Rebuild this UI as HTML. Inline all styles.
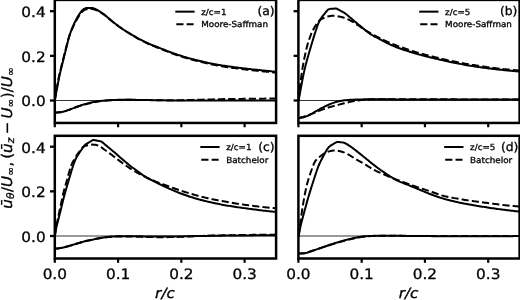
<!DOCTYPE html>
<html lang="en"><head><meta charset="utf-8"><title>Vortex velocity profiles</title>
<style>html,body{margin:0;padding:0;background:#fff;overflow:hidden}body{width:520px;height:300px;position:relative}</style>
</head><body>
<svg width="520" height="300" viewBox="0 0 520 300" style="display:block;position:absolute;left:0;top:0" font-family="'DejaVu Sans', 'Liberation Sans', sans-serif" fill="#000">
<style>text{stroke:#000;stroke-width:0.3px;paint-order:stroke fill;text-rendering:geometricPrecision}</style>
<rect x="0" y="0" width="520" height="300" fill="#fff"/>
<defs>
<clipPath id="cpa"><rect x="54.8" y="-0.1" width="221.30" height="123.05"/></clipPath>
<clipPath id="cpb"><rect x="298.4" y="-0.1" width="221.20" height="123.05"/></clipPath>
<clipPath id="cpc"><rect x="54.8" y="135.8" width="221.30" height="122.70"/></clipPath>
<clipPath id="cpd"><rect x="298.4" y="135.8" width="221.20" height="122.70"/></clipPath>
</defs>
<g clip-path="url(#cpa)">
<path d="M54.8,100.5 L276.1,100.5" stroke="#000" stroke-width="0.8" fill="none"/>
<path d="M54.80,100.50 L56.19,92.94 L57.30,87.00 L57.59,85.45 L58.98,77.94 L59.60,75.00 L60.37,71.70 L61.77,65.98 L63.16,60.42 L64.30,55.85 L64.55,54.83 L65.94,49.22 L67.34,43.64 L68.00,41.00 L68.73,38.24 L70.12,33.66 L71.25,30.50 L71.52,29.81 L72.91,26.39 L74.30,23.29 L75.70,20.46 L77.09,17.86 L77.40,17.30 L78.48,15.44 L79.88,13.28 L81.00,11.80 L81.27,11.48 L82.66,9.99 L84.05,8.86 L85.30,8.30 L85.45,8.26 L86.84,8.01 L88.23,7.91 L89.00,7.90 L89.63,7.90 L91.02,7.93 L92.41,8.04 L93.30,8.20 L93.81,8.34 L95.20,8.89 L96.00,9.30 L96.59,9.63 L97.99,10.43 L99.38,11.29 L100.00,11.70 L100.77,12.22 L102.16,13.16 L103.56,14.14 L104.95,15.17 L106.00,16.00 L106.34,16.28 L107.74,17.47 L109.13,18.70 L110.52,19.90 L111.00,20.30 L111.92,21.05 L113.31,22.18 L114.70,23.29 L116.00,24.30 L116.10,24.37 L117.49,25.42 L118.88,26.44 L120.27,27.42 L121.67,28.38 L122.00,28.60 L123.06,29.31 L124.45,30.22 L125.85,31.12 L127.24,32.00 L128.63,32.87 L130.03,33.72 L131.42,34.56 L132.00,34.90 L132.81,35.38 L134.21,36.19 L135.60,36.98 L136.99,37.76 L138.38,38.52 L139.78,39.26 L141.17,39.98 L142.00,40.40 L142.56,40.68 L143.96,41.37 L145.35,42.05 L146.74,42.71 L148.14,43.35 L149.53,43.97 L150.92,44.56 L152.00,45.00 L152.32,45.13 L153.71,45.67 L155.10,46.22 L156.49,46.76 L157.89,47.30 L159.28,47.84 L160.67,48.38 L162.00,48.90 L162.07,48.93 L163.46,49.48 L164.85,50.04 L166.25,50.61 L167.64,51.17 L169.03,51.72 L170.00,52.10 L170.43,52.26 L171.82,52.78 L173.21,53.28 L174.61,53.76 L176.00,54.22 L177.39,54.67 L178.78,55.11 L180.00,55.50 L180.18,55.56 L181.57,56.00 L182.96,56.44 L184.36,56.87 L185.75,57.29 L187.14,57.70 L188.54,58.10 L189.93,58.48 L190.00,58.50 L191.32,58.85 L192.72,59.21 L194.11,59.56 L195.50,59.91 L196.89,60.25 L198.29,60.59 L199.68,60.92 L200.00,61.00 L201.07,61.26 L202.47,61.59 L203.86,61.92 L205.25,62.25 L206.65,62.57 L208.04,62.88 L209.43,63.18 L210.00,63.30 L210.83,63.47 L212.22,63.75 L213.61,64.01 L215.00,64.27 L216.40,64.51 L217.79,64.74 L219.18,64.97 L220.00,65.10 L220.58,65.19 L221.97,65.41 L223.36,65.63 L224.76,65.84 L226.15,66.05 L227.54,66.26 L228.94,66.45 L230.00,66.60 L230.33,66.64 L231.72,66.83 L233.11,67.02 L234.51,67.20 L235.90,67.38 L237.29,67.56 L238.69,67.74 L240.00,67.90 L240.08,67.91 L241.47,68.08 L242.87,68.26 L244.26,68.43 L245.65,68.60 L247.05,68.77 L248.44,68.93 L249.83,69.08 L250.00,69.10 L251.22,69.23 L252.62,69.38 L254.01,69.53 L255.40,69.67 L256.80,69.82 L258.19,69.96 L259.58,70.10 L260.98,70.24 L262.37,70.39 L262.50,70.40 L263.76,70.53 L265.16,70.67 L266.55,70.81 L267.94,70.95 L269.33,71.10 L270.73,71.24 L272.12,71.38 L273.51,71.52 L274.91,71.66 L276.30,71.80" stroke="#000" stroke-width="2.0" fill="none" stroke-linejoin="round" stroke-linecap="square"/>
<path d="M54.80,112.65 L56.19,112.59 L57.59,112.48 L58.00,112.45 L58.98,112.36 L60.37,112.21 L61.77,111.99 L62.50,111.85 L63.16,111.70 L64.55,111.32 L65.94,110.87 L66.00,110.85 L67.34,110.40 L68.73,109.91 L70.00,109.45 L70.12,109.40 L71.52,108.87 L72.91,108.34 L74.30,107.81 L75.00,107.55 L75.70,107.29 L77.09,106.76 L78.48,106.23 L79.88,105.70 L80.00,105.65 L81.27,105.21 L82.66,104.79 L84.05,104.41 L85.00,104.15 L85.45,104.02 L86.84,103.64 L88.23,103.26 L89.63,102.91 L90.00,102.82 L91.02,102.58 L92.41,102.29 L93.81,102.02 L95.00,101.81 L95.20,101.77 L96.59,101.54 L97.99,101.32 L99.38,101.13 L100.00,101.05 L100.77,100.96 L102.16,100.82 L103.56,100.68 L104.95,100.56 L106.34,100.45 L107.74,100.34 L109.13,100.25 L110.00,100.20 L110.52,100.17 L111.92,100.09 L113.31,100.01 L114.70,99.95 L116.10,99.89 L117.49,99.84 L118.88,99.81 L120.00,99.80 L120.27,99.80 L121.67,99.79 L123.06,99.79 L124.45,99.79 L125.85,99.80 L127.24,99.80 L128.63,99.81 L130.03,99.81 L131.42,99.83 L132.81,99.84 L134.21,99.85 L135.60,99.87 L136.99,99.89 L137.50,99.90 L138.38,99.91 L139.78,99.94 L141.17,99.96 L142.56,99.99 L143.96,100.01 L145.35,100.04 L146.74,100.07 L148.14,100.10 L149.53,100.12 L150.92,100.15 L152.32,100.17 L153.71,100.20 L155.10,100.22 L156.49,100.25 L157.89,100.27 L159.28,100.29 L160.00,100.30 L160.67,100.31 L162.07,100.33 L163.46,100.35 L164.85,100.37 L166.25,100.38 L167.64,100.40 L169.03,100.42 L170.43,100.43 L171.82,100.45 L173.21,100.46 L174.61,100.47 L176.00,100.48 L177.39,100.49 L178.78,100.50 L180.00,100.50 L180.18,100.50 L181.57,100.50 L182.96,100.51 L184.36,100.51 L185.75,100.51 L187.14,100.51 L188.54,100.51 L189.93,100.51 L191.32,100.51 L192.72,100.52 L194.11,100.52 L195.50,100.52 L196.89,100.52 L198.29,100.52 L199.68,100.52 L201.07,100.52 L202.47,100.52 L203.86,100.52 L205.25,100.52 L206.65,100.51 L208.04,100.51 L209.43,100.51 L210.83,100.51 L212.22,100.51 L213.61,100.51 L215.00,100.51 L216.40,100.51 L217.79,100.50 L219.18,100.50 L220.00,100.50 L220.58,100.50 L221.97,100.50 L223.36,100.49 L224.76,100.49 L226.15,100.49 L227.54,100.49 L228.94,100.49 L230.33,100.48 L231.72,100.48 L233.11,100.48 L234.51,100.48 L235.90,100.48 L237.29,100.47 L238.69,100.47 L240.08,100.47 L241.47,100.47 L242.87,100.47 L244.26,100.46 L245.65,100.46 L247.05,100.46 L248.44,100.46 L249.83,100.46 L251.22,100.45 L252.62,100.45 L254.01,100.45 L255.40,100.45 L256.80,100.44 L258.19,100.44 L259.58,100.44 L260.98,100.44 L262.37,100.43 L263.76,100.43 L265.16,100.43 L266.55,100.42 L267.94,100.42 L269.33,100.42 L270.73,100.41 L272.12,100.41 L273.51,100.41 L274.91,100.40 L276.30,100.40" stroke="#000" stroke-width="2.0" fill="none" stroke-linejoin="round" stroke-linecap="square"/>
<path d="M54.80,100.50 L56.19,91.73 L57.00,87.00 L57.59,83.67 L58.98,76.42 L59.30,75.00 L60.37,70.50 L61.77,64.80 L63.16,59.21 L64.00,55.85 L64.55,53.65 L65.94,48.14 L67.34,42.75 L67.80,41.00 L68.73,37.74 L70.12,33.66 L71.20,31.00 L71.52,30.27 L72.91,27.19 L74.30,24.31 L75.70,21.61 L77.09,19.09 L77.60,18.20 L78.48,16.71 L79.88,14.55 L81.20,12.80 L81.27,12.72 L82.66,11.28 L84.05,10.21 L85.30,9.60 L85.45,9.55 L86.84,9.16 L88.23,8.94 L89.00,8.90 L89.63,8.90 L91.02,8.94 L92.41,9.06 L93.30,9.20 L93.81,9.31 L95.20,9.70 L96.00,10.00 L96.59,10.25 L97.99,10.90 L99.38,11.64 L100.00,12.00 L100.77,12.47 L102.16,13.34 L103.56,14.27 L104.95,15.28 L106.00,16.10 L106.34,16.38 L107.74,17.58 L109.13,18.80 L110.52,20.00 L111.00,20.40 L111.92,21.15 L113.31,22.28 L114.70,23.39 L116.00,24.40 L116.10,24.47 L117.49,25.52 L118.88,26.53 L120.27,27.51 L121.67,28.47 L122.00,28.70 L123.06,29.41 L124.45,30.34 L125.85,31.25 L127.24,32.15 L128.63,33.03 L130.03,33.90 L131.42,34.75 L132.00,35.10 L132.81,35.59 L134.21,36.41 L135.60,37.22 L136.99,38.01 L138.38,38.78 L139.78,39.54 L141.17,40.27 L142.00,40.70 L142.56,40.99 L143.96,41.69 L145.35,42.39 L146.74,43.07 L148.14,43.72 L149.53,44.36 L150.92,44.96 L152.00,45.40 L152.32,45.53 L153.71,46.08 L155.10,46.64 L156.49,47.20 L157.89,47.76 L159.28,48.31 L160.67,48.87 L162.00,49.40 L162.07,49.43 L163.46,49.98 L164.85,50.54 L166.25,51.10 L167.64,51.66 L169.03,52.21 L170.00,52.60 L170.43,52.77 L171.82,53.30 L173.21,53.82 L174.61,54.31 L176.00,54.79 L177.39,55.25 L178.78,55.71 L180.00,56.10 L180.18,56.16 L181.57,56.60 L182.96,57.04 L184.36,57.46 L185.75,57.88 L187.14,58.29 L188.54,58.69 L189.93,59.08 L190.00,59.10 L191.32,59.46 L192.72,59.84 L194.11,60.20 L195.50,60.57 L196.89,60.92 L198.29,61.28 L199.68,61.62 L200.00,61.70 L201.07,61.96 L202.47,62.30 L203.86,62.63 L205.25,62.95 L206.65,63.27 L208.04,63.58 L209.43,63.88 L210.00,64.00 L210.83,64.17 L212.22,64.45 L213.61,64.73 L215.00,65.00 L216.40,65.26 L217.79,65.51 L219.18,65.76 L220.00,65.90 L220.58,66.00 L221.97,66.24 L223.36,66.47 L224.76,66.70 L226.15,66.93 L227.54,67.14 L228.94,67.35 L230.00,67.50 L230.33,67.55 L231.72,67.73 L233.11,67.92 L234.51,68.10 L235.90,68.28 L237.29,68.46 L238.69,68.64 L240.00,68.80 L240.08,68.81 L241.47,68.98 L242.87,69.16 L244.26,69.33 L245.65,69.50 L247.05,69.67 L248.44,69.83 L249.83,69.98 L250.00,70.00 L251.22,70.13 L252.62,70.28 L254.01,70.43 L255.40,70.57 L256.80,70.72 L258.19,70.86 L259.58,71.00 L260.98,71.14 L262.37,71.29 L262.50,71.30 L263.76,71.43 L265.16,71.57 L266.55,71.71 L267.94,71.85 L269.33,72.00 L270.73,72.14 L272.12,72.28 L273.51,72.42 L274.91,72.56 L276.30,72.70" stroke="#000" stroke-width="2.0" fill="none" stroke-linejoin="round" stroke-dasharray="7.2 3.1"/>
<path d="M54.80,112.65 L56.19,112.59 L57.59,112.48 L58.00,112.45 L58.98,112.36 L60.37,112.21 L61.77,111.99 L62.50,111.85 L63.16,111.70 L64.55,111.32 L65.94,110.87 L66.00,110.85 L67.34,110.39 L68.73,109.91 L70.00,109.45 L70.12,109.40 L71.52,108.88 L72.91,108.34 L74.30,107.81 L75.00,107.55 L75.70,107.30 L77.09,106.80 L78.48,106.33 L79.88,105.89 L80.00,105.85 L81.27,105.47 L82.66,105.08 L84.05,104.70 L85.00,104.45 L85.45,104.33 L86.84,103.98 L88.23,103.63 L89.63,103.28 L90.00,103.19 L91.02,102.95 L92.41,102.63 L93.81,102.32 L95.00,102.06 L95.20,102.02 L96.59,101.73 L97.99,101.48 L99.38,101.26 L100.00,101.18 L100.77,101.08 L102.16,100.92 L103.56,100.78 L104.95,100.65 L106.34,100.54 L107.74,100.44 L109.13,100.35 L110.00,100.30 L110.52,100.27 L111.92,100.20 L113.31,100.12 L114.70,100.06 L116.10,100.00 L117.49,99.95 L118.88,99.92 L120.00,99.90 L120.27,99.90 L121.67,99.89 L123.06,99.88 L124.45,99.87 L125.85,99.86 L127.24,99.86 L128.63,99.86 L130.03,99.86 L131.42,99.86 L132.81,99.87 L134.21,99.87 L135.60,99.88 L136.99,99.90 L137.50,99.90 L138.38,99.91 L139.78,99.93 L141.17,99.94 L142.56,99.96 L143.96,99.98 L145.35,100.00 L146.74,100.02 L148.14,100.04 L149.53,100.07 L150.92,100.09 L152.32,100.11 L153.71,100.13 L155.10,100.15 L156.49,100.16 L157.89,100.18 L159.28,100.19 L160.00,100.20 L160.67,100.21 L162.07,100.22 L163.46,100.23 L164.85,100.25 L166.25,100.26 L167.64,100.27 L169.03,100.28 L170.43,100.29 L171.82,100.29 L173.21,100.29 L174.61,100.28 L176.00,100.27 L177.39,100.25 L178.78,100.23 L180.00,100.20 L180.18,100.20 L181.57,100.16 L182.96,100.13 L184.36,100.09 L185.75,100.06 L187.14,100.02 L188.54,99.99 L189.93,99.95 L191.32,99.92 L192.72,99.88 L194.11,99.85 L195.50,99.81 L196.89,99.78 L198.29,99.74 L199.68,99.71 L200.00,99.70 L201.07,99.67 L202.47,99.64 L203.86,99.60 L205.25,99.57 L206.65,99.53 L208.04,99.50 L209.43,99.46 L210.83,99.43 L212.22,99.39 L213.61,99.36 L215.00,99.32 L216.40,99.29 L217.79,99.26 L219.18,99.22 L220.00,99.20 L220.58,99.19 L221.97,99.15 L223.36,99.12 L224.76,99.10 L226.15,99.07 L227.54,99.05 L228.94,99.03 L230.33,99.01 L231.72,98.99 L233.11,98.97 L234.51,98.96 L235.90,98.94 L237.29,98.93 L238.69,98.91 L240.08,98.90 L241.47,98.89 L242.87,98.87 L244.26,98.86 L245.65,98.85 L247.05,98.83 L248.44,98.82 L249.83,98.80 L250.00,98.80 L251.22,98.79 L252.62,98.77 L254.01,98.75 L255.40,98.74 L256.80,98.72 L258.19,98.70 L259.58,98.69 L260.98,98.67 L262.37,98.65 L263.76,98.64 L265.16,98.62 L266.55,98.61 L267.94,98.59 L269.33,98.58 L270.73,98.56 L272.12,98.54 L273.51,98.53 L274.91,98.51 L276.30,98.50" stroke="#000" stroke-width="2.0" fill="none" stroke-linejoin="round" stroke-dasharray="7.2 3.1"/>
</g>
<path d="M50.00,100.50 L54.8,100.50" stroke="#000" stroke-width="2.3"/>
<path d="M50.00,55.85 L54.8,55.85" stroke="#000" stroke-width="2.3"/>
<path d="M50.00,11.20 L54.8,11.20" stroke="#000" stroke-width="2.3"/>
<path d="M54.80,122.95 L54.80,127.25" stroke="#000" stroke-width="2.2"/>
<path d="M118.07,122.95 L118.07,127.25" stroke="#000" stroke-width="2.2"/>
<path d="M181.34,122.95 L181.34,127.25" stroke="#000" stroke-width="2.2"/>
<path d="M244.61,122.95 L244.61,127.25" stroke="#000" stroke-width="2.2"/>
<rect x="54.8" y="-0.1" width="221.30" height="123.05" fill="none" stroke="#000" stroke-width="2.5"/>
<g clip-path="url(#cpb)">
<path d="M298.4,100.5 L519.6,100.5" stroke="#000" stroke-width="0.8" fill="none"/>
<path d="M298.60,100.50 L299.99,92.91 L300.90,88.00 L301.38,85.43 L302.77,78.16 L303.40,75.00 L304.16,71.39 L305.55,65.46 L306.94,60.22 L307.00,60.00 L308.33,55.31 L309.72,50.51 L311.11,45.81 L311.50,44.50 L312.50,41.19 L313.89,36.66 L315.28,32.24 L316.00,30.00 L316.67,27.98 L318.06,24.15 L319.45,20.93 L320.70,18.70 L320.84,18.49 L322.23,16.58 L323.62,14.87 L324.70,13.60 L325.01,13.23 L326.40,11.46 L327.79,9.92 L328.70,9.30 L329.18,9.12 L330.57,8.87 L331.96,8.83 L332.70,8.80 L333.35,8.73 L334.74,8.54 L336.13,8.55 L336.70,8.70 L337.52,9.04 L338.91,9.77 L340.30,10.59 L341.00,11.00 L341.69,11.38 L343.08,12.11 L344.47,12.92 L345.30,13.50 L345.86,13.93 L347.25,15.06 L348.64,16.23 L350.00,17.40 L350.03,17.42 L351.42,18.61 L352.81,19.80 L354.20,20.98 L354.70,21.40 L355.59,22.14 L356.98,23.29 L358.37,24.43 L359.76,25.58 L361.00,26.60 L361.15,26.72 L362.54,27.87 L363.93,29.01 L365.32,30.15 L366.71,31.27 L368.00,32.30 L368.10,32.38 L369.49,33.41 L370.88,34.34 L372.27,35.20 L373.66,36.00 L375.05,36.75 L376.44,37.47 L377.83,38.17 L379.22,38.89 L380.00,39.30 L380.61,39.62 L382.00,40.36 L383.39,41.10 L384.78,41.83 L386.17,42.56 L387.56,43.26 L388.95,43.95 L390.34,44.61 L391.73,45.25 L393.00,45.80 L393.12,45.85 L394.51,46.42 L395.90,46.98 L397.29,47.51 L398.68,48.03 L400.07,48.53 L401.46,49.02 L402.85,49.49 L404.24,49.95 L405.00,50.20 L405.63,50.40 L407.02,50.85 L408.41,51.30 L409.79,51.74 L411.18,52.18 L412.57,52.62 L413.96,53.04 L415.35,53.45 L416.74,53.85 L418.00,54.20 L418.13,54.24 L419.52,54.61 L420.91,54.99 L422.30,55.35 L423.69,55.72 L425.08,56.08 L426.47,56.43 L427.86,56.78 L429.25,57.12 L430.00,57.30 L430.64,57.46 L432.03,57.79 L433.42,58.12 L434.81,58.46 L436.20,58.79 L437.59,59.11 L438.98,59.44 L440.37,59.76 L441.76,60.08 L443.15,60.39 L444.54,60.70 L445.00,60.80 L445.93,61.00 L447.32,61.31 L448.71,61.60 L450.10,61.90 L451.49,62.19 L452.88,62.47 L454.27,62.75 L455.66,63.03 L457.05,63.31 L458.00,63.50 L458.44,63.59 L459.83,63.86 L461.22,64.13 L462.61,64.39 L464.00,64.65 L465.39,64.90 L466.78,65.15 L468.17,65.39 L469.56,65.63 L470.00,65.70 L470.95,65.86 L472.34,66.08 L473.73,66.30 L475.12,66.51 L476.51,66.72 L477.90,66.93 L479.29,67.12 L480.68,67.32 L482.07,67.51 L483.46,67.70 L484.85,67.88 L485.00,67.90 L486.24,68.06 L487.63,68.24 L489.02,68.41 L490.41,68.59 L491.80,68.76 L493.19,68.93 L494.58,69.09 L495.97,69.25 L497.36,69.41 L498.75,69.56 L500.00,69.70 L500.14,69.72 L501.53,69.86 L502.92,70.01 L504.31,70.15 L505.70,70.30 L507.09,70.44 L508.48,70.58 L509.87,70.71 L511.26,70.85 L512.65,70.98 L514.04,71.11 L515.43,71.23 L516.82,71.36 L518.21,71.48 L519.60,71.60" stroke="#000" stroke-width="2.0" fill="none" stroke-linejoin="round" stroke-linecap="square"/>
<path d="M298.60,118.15 L299.99,118.01 L301.00,117.85 L301.38,117.78 L302.77,117.49 L304.16,117.12 L305.00,116.85 L305.55,116.66 L306.94,116.12 L308.33,115.49 L309.00,115.15 L309.72,114.77 L311.11,114.02 L312.50,113.25 L312.50,113.25 L313.89,112.46 L315.28,111.66 L316.67,110.85 L318.06,110.05 L319.45,109.26 L320.00,108.95 L320.84,108.49 L322.23,107.77 L323.62,107.07 L325.01,106.40 L326.40,105.76 L327.50,105.25 L327.79,105.12 L329.18,104.51 L330.57,103.93 L331.96,103.38 L333.35,102.87 L334.74,102.40 L335.00,102.31 L336.13,101.97 L337.52,101.59 L338.91,101.27 L340.00,101.05 L340.30,101.00 L341.69,100.75 L343.08,100.53 L344.47,100.36 L345.00,100.30 L345.86,100.22 L347.25,100.09 L348.64,99.97 L350.03,99.87 L351.42,99.77 L352.81,99.69 L354.20,99.63 L355.00,99.60 L355.59,99.58 L356.98,99.54 L358.37,99.50 L359.76,99.46 L361.15,99.42 L362.54,99.38 L363.93,99.36 L365.32,99.33 L366.71,99.31 L368.10,99.30 L369.49,99.30 L370.00,99.30 L370.88,99.30 L372.27,99.31 L373.66,99.31 L375.05,99.32 L376.44,99.32 L377.83,99.32 L379.22,99.33 L380.61,99.33 L382.00,99.34 L383.39,99.34 L384.78,99.35 L386.17,99.35 L387.56,99.35 L388.95,99.36 L390.34,99.36 L391.73,99.37 L393.12,99.37 L394.51,99.38 L395.90,99.38 L397.29,99.39 L398.68,99.39 L400.00,99.40 L400.07,99.40 L401.46,99.41 L402.85,99.41 L404.24,99.42 L405.63,99.42 L407.02,99.43 L408.41,99.43 L409.79,99.44 L411.18,99.45 L412.57,99.45 L413.96,99.46 L415.35,99.46 L416.74,99.47 L418.13,99.47 L419.52,99.48 L420.91,99.48 L422.30,99.49 L423.69,99.50 L425.00,99.50 L425.08,99.50 L426.47,99.51 L427.86,99.51 L429.25,99.52 L430.64,99.52 L432.03,99.52 L433.42,99.53 L434.81,99.53 L436.20,99.54 L437.59,99.54 L438.98,99.55 L440.37,99.55 L441.76,99.55 L443.15,99.56 L444.54,99.56 L445.93,99.56 L447.32,99.57 L448.71,99.57 L450.10,99.57 L451.49,99.57 L452.88,99.58 L454.27,99.58 L455.66,99.58 L457.05,99.58 L458.44,99.59 L459.83,99.59 L461.22,99.59 L462.61,99.59 L464.00,99.59 L465.39,99.60 L466.78,99.60 L468.17,99.60 L469.56,99.60 L470.00,99.60 L470.95,99.60 L472.34,99.60 L473.73,99.60 L475.12,99.60 L476.51,99.60 L477.90,99.60 L479.29,99.60 L480.68,99.60 L482.07,99.60 L483.46,99.60 L484.85,99.60 L486.24,99.60 L487.63,99.59 L489.02,99.59 L490.41,99.59 L491.80,99.59 L493.19,99.59 L494.58,99.58 L495.97,99.58 L497.36,99.58 L498.75,99.57 L500.14,99.57 L501.53,99.56 L502.92,99.56 L504.31,99.56 L505.70,99.55 L507.09,99.55 L508.48,99.54 L509.87,99.54 L511.26,99.53 L512.65,99.53 L514.04,99.52 L515.43,99.52 L516.82,99.51 L518.21,99.51 L519.60,99.50" stroke="#000" stroke-width="2.0" fill="none" stroke-linejoin="round" stroke-linecap="square"/>
<path d="M298.60,100.50 L299.90,88.00 L299.99,87.19 L301.38,75.87 L301.50,75.00 L302.77,66.72 L304.00,60.00 L304.16,59.20 L305.55,52.57 L306.94,46.73 L308.00,43.00 L308.33,41.96 L309.72,37.86 L311.11,34.21 L312.50,31.06 L313.30,29.50 L313.89,28.42 L315.28,25.97 L316.67,23.77 L318.06,21.96 L318.70,21.30 L319.45,20.62 L320.84,19.51 L322.00,18.80 L322.23,18.69 L323.62,18.01 L325.01,17.41 L325.30,17.30 L326.40,16.92 L327.79,16.49 L328.50,16.30 L329.18,16.15 L330.57,15.92 L331.96,15.80 L332.00,15.80 L333.35,15.78 L334.74,15.82 L336.13,15.93 L337.30,16.10 L337.52,16.14 L338.91,16.41 L340.30,16.72 L341.00,16.90 L341.69,17.08 L343.08,17.47 L344.47,17.91 L345.30,18.20 L345.86,18.41 L347.25,18.96 L348.64,19.58 L350.03,20.28 L351.42,21.05 L352.00,21.40 L352.81,21.90 L354.20,22.78 L355.59,23.68 L356.98,24.59 L357.30,24.80 L358.37,25.51 L359.76,26.46 L361.15,27.42 L362.54,28.37 L363.93,29.30 L365.00,30.00 L365.32,30.20 L366.71,31.07 L368.10,31.91 L369.49,32.72 L370.88,33.50 L372.27,34.26 L373.66,35.01 L375.05,35.74 L376.44,36.46 L377.50,37.00 L377.83,37.17 L379.22,37.87 L380.61,38.56 L382.00,39.25 L383.39,39.92 L384.78,40.57 L386.17,41.22 L387.56,41.84 L388.95,42.45 L390.00,42.90 L390.34,43.04 L391.73,43.62 L393.12,44.18 L394.51,44.74 L395.90,45.28 L397.29,45.81 L398.68,46.33 L400.07,46.84 L401.46,47.33 L402.50,47.70 L402.85,47.82 L404.24,48.30 L405.63,48.78 L407.02,49.25 L408.41,49.72 L409.79,50.18 L411.18,50.63 L412.57,51.08 L413.96,51.51 L415.35,51.93 L416.74,52.34 L418.00,52.70 L418.13,52.74 L419.52,53.12 L420.91,53.51 L422.30,53.88 L423.69,54.26 L425.08,54.63 L426.47,54.99 L427.86,55.35 L429.25,55.71 L430.00,55.90 L430.64,56.06 L432.03,56.42 L433.42,56.77 L434.81,57.12 L436.20,57.47 L437.59,57.82 L438.98,58.17 L440.37,58.51 L441.76,58.84 L443.15,59.17 L444.54,59.50 L445.00,59.60 L445.93,59.81 L447.32,60.12 L448.71,60.42 L450.10,60.72 L451.49,61.01 L452.88,61.29 L454.27,61.57 L455.66,61.84 L457.05,62.12 L458.00,62.30 L458.44,62.39 L459.83,62.65 L461.22,62.92 L462.61,63.18 L464.00,63.44 L465.39,63.69 L466.78,63.94 L468.17,64.19 L469.56,64.43 L470.00,64.50 L470.95,64.66 L472.34,64.89 L473.73,65.11 L475.12,65.34 L476.51,65.55 L477.90,65.77 L479.29,65.98 L480.68,66.18 L482.07,66.38 L483.46,66.58 L484.85,66.78 L485.00,66.80 L486.24,66.97 L487.63,67.16 L489.02,67.35 L490.41,67.53 L491.80,67.71 L493.19,67.89 L494.58,68.06 L495.97,68.23 L497.36,68.40 L498.75,68.56 L500.00,68.70 L500.14,68.72 L501.53,68.87 L502.92,69.02 L504.31,69.17 L505.70,69.32 L507.09,69.46 L508.48,69.60 L509.87,69.73 L511.26,69.86 L512.65,69.99 L514.04,70.12 L515.43,70.25 L516.82,70.37 L518.21,70.48 L519.60,70.60" stroke="#000" stroke-width="2.0" fill="none" stroke-linejoin="round" stroke-dasharray="7.2 3.1"/>
<path d="M298.60,117.65 L299.99,117.44 L301.00,117.25 L301.38,117.17 L302.77,116.85 L304.16,116.49 L305.00,116.25 L305.55,116.08 L306.94,115.65 L308.33,115.18 L309.00,114.95 L309.72,114.69 L311.11,114.18 L312.50,113.65 L312.50,113.65 L313.89,113.08 L315.28,112.48 L316.67,111.86 L318.06,111.25 L319.45,110.67 L320.00,110.45 L320.84,110.13 L322.23,109.62 L323.62,109.12 L325.01,108.65 L326.40,108.20 L327.50,107.85 L327.79,107.76 L329.18,107.33 L330.57,106.91 L331.96,106.50 L333.35,106.10 L334.74,105.72 L335.00,105.65 L336.13,105.35 L337.52,104.99 L338.91,104.63 L340.00,104.35 L340.30,104.27 L341.69,103.92 L343.08,103.56 L344.47,103.20 L345.00,103.07 L345.86,102.85 L347.25,102.52 L348.64,102.19 L350.03,101.89 L351.42,101.60 L352.81,101.33 L354.20,101.07 L355.00,100.93 L355.59,100.83 L356.98,100.61 L358.37,100.42 L359.76,100.26 L361.15,100.11 L362.54,99.99 L363.93,99.88 L365.00,99.80 L365.32,99.78 L366.71,99.68 L368.10,99.59 L369.49,99.50 L370.88,99.42 L372.27,99.34 L373.66,99.28 L375.05,99.24 L376.44,99.21 L377.50,99.20 L377.83,99.20 L379.22,99.20 L380.61,99.19 L382.00,99.19 L383.39,99.19 L384.78,99.18 L386.17,99.18 L387.56,99.18 L388.95,99.18 L390.34,99.18 L391.73,99.18 L393.12,99.18 L394.51,99.19 L395.90,99.19 L397.29,99.19 L398.68,99.20 L400.00,99.20 L400.07,99.20 L401.46,99.21 L402.85,99.21 L404.24,99.22 L405.63,99.22 L407.02,99.23 L408.41,99.24 L409.79,99.24 L411.18,99.25 L412.57,99.25 L413.96,99.26 L415.35,99.27 L416.74,99.27 L418.13,99.28 L419.52,99.28 L420.91,99.29 L422.30,99.29 L423.69,99.30 L425.00,99.30 L425.08,99.30 L426.47,99.30 L427.86,99.31 L429.25,99.31 L430.64,99.32 L432.03,99.32 L433.42,99.32 L434.81,99.33 L436.20,99.33 L437.59,99.33 L438.98,99.34 L440.37,99.34 L441.76,99.35 L443.15,99.35 L444.54,99.35 L445.93,99.36 L447.32,99.36 L448.71,99.36 L450.10,99.37 L451.49,99.37 L452.88,99.37 L454.27,99.37 L455.66,99.38 L457.05,99.38 L458.44,99.38 L459.83,99.38 L461.22,99.39 L462.61,99.39 L464.00,99.39 L465.39,99.39 L466.78,99.40 L468.17,99.40 L469.56,99.40 L470.00,99.40 L470.95,99.40 L472.34,99.40 L473.73,99.40 L475.12,99.41 L476.51,99.41 L477.90,99.41 L479.29,99.41 L480.68,99.41 L482.07,99.41 L483.46,99.41 L484.85,99.41 L486.24,99.41 L487.63,99.41 L489.02,99.41 L490.41,99.41 L491.80,99.41 L493.19,99.41 L494.58,99.41 L495.97,99.41 L497.36,99.41 L498.75,99.41 L500.14,99.41 L501.53,99.41 L502.92,99.41 L504.31,99.41 L505.70,99.41 L507.09,99.41 L508.48,99.41 L509.87,99.41 L511.26,99.41 L512.65,99.41 L514.04,99.41 L515.43,99.40 L516.82,99.40 L518.21,99.40 L519.60,99.40" stroke="#000" stroke-width="2.0" fill="none" stroke-linejoin="round" stroke-dasharray="7.2 3.1"/>
</g>
<path d="M293.60,100.50 L298.4,100.50" stroke="#000" stroke-width="2.3"/>
<path d="M293.60,55.85 L298.4,55.85" stroke="#000" stroke-width="2.3"/>
<path d="M293.60,11.20 L298.4,11.20" stroke="#000" stroke-width="2.3"/>
<path d="M298.40,122.95 L298.40,127.25" stroke="#000" stroke-width="2.2"/>
<path d="M361.67,122.95 L361.67,127.25" stroke="#000" stroke-width="2.2"/>
<path d="M424.94,122.95 L424.94,127.25" stroke="#000" stroke-width="2.2"/>
<path d="M488.21,122.95 L488.21,127.25" stroke="#000" stroke-width="2.2"/>
<rect x="298.4" y="-0.1" width="221.20" height="123.05" fill="none" stroke="#000" stroke-width="2.5"/>
<g clip-path="url(#cpc)">
<path d="M54.8,236.0 L276.1,236.0" stroke="#000" stroke-width="0.8" fill="none"/>
<path d="M54.80,236.00 L56.19,228.27 L56.70,226.00 L57.59,222.46 L58.98,217.01 L60.37,211.51 L60.50,211.00 L61.77,205.82 L63.16,200.11 L64.20,196.00 L64.55,194.67 L65.94,189.68 L67.34,184.94 L68.50,181.00 L68.73,180.21 L70.12,175.46 L71.52,170.80 L72.91,166.29 L73.00,166.00 L74.30,162.24 L75.70,158.97 L77.09,156.35 L77.30,156.00 L78.48,154.13 L79.88,152.04 L81.27,150.04 L81.30,150.00 L82.66,148.00 L84.05,146.04 L85.30,144.70 L85.45,144.58 L86.84,143.60 L88.23,142.80 L89.30,142.20 L89.63,142.00 L91.02,141.05 L92.41,140.25 L93.30,140.00 L93.81,139.98 L95.20,140.17 L96.59,140.53 L97.30,140.70 L97.99,140.82 L99.38,141.01 L100.77,141.37 L101.30,141.60 L102.16,142.14 L103.56,143.29 L104.50,144.10 L104.95,144.47 L106.34,145.63 L107.74,146.78 L108.00,147.00 L109.13,147.94 L110.52,149.09 L111.92,150.25 L113.30,151.40 L113.31,151.41 L114.70,152.60 L116.10,153.83 L117.49,155.09 L118.88,156.33 L120.00,157.30 L120.27,157.53 L121.67,158.71 L123.06,159.88 L124.45,161.05 L125.00,161.50 L125.85,162.21 L127.24,163.38 L128.63,164.55 L130.03,165.68 L131.42,166.77 L132.00,167.20 L132.81,167.79 L134.21,168.81 L135.60,169.83 L136.99,170.85 L138.30,171.80 L138.38,171.86 L139.78,172.88 L141.17,173.90 L142.00,174.50 L142.56,174.90 L143.96,175.84 L145.35,176.71 L146.74,177.52 L148.14,178.29 L149.53,179.03 L150.92,179.75 L152.00,180.30 L152.32,180.46 L153.71,181.18 L155.10,181.89 L156.49,182.60 L157.89,183.29 L159.28,183.98 L160.67,184.66 L162.00,185.30 L162.07,185.33 L163.46,185.99 L164.85,186.64 L166.25,187.29 L167.64,187.93 L169.03,188.57 L170.00,189.00 L170.43,189.19 L171.82,189.81 L173.21,190.41 L174.61,191.01 L176.00,191.59 L177.39,192.16 L178.78,192.72 L180.00,193.20 L180.18,193.27 L181.57,193.80 L182.96,194.31 L184.36,194.81 L185.75,195.29 L187.14,195.76 L188.54,196.22 L189.93,196.68 L190.00,196.70 L191.32,197.12 L192.72,197.57 L194.11,198.00 L195.50,198.42 L196.89,198.83 L198.29,199.23 L199.68,199.61 L200.00,199.70 L201.07,199.98 L202.47,200.34 L203.86,200.70 L205.25,201.04 L206.65,201.37 L208.04,201.70 L209.43,202.02 L210.83,202.33 L212.22,202.64 L212.50,202.70 L213.61,202.94 L215.00,203.24 L216.40,203.53 L217.79,203.82 L219.18,204.10 L220.58,204.38 L221.97,204.65 L223.36,204.91 L224.76,205.16 L225.00,205.20 L226.15,205.40 L227.54,205.64 L228.94,205.87 L230.33,206.10 L231.72,206.33 L233.11,206.55 L234.51,206.76 L235.90,206.97 L237.29,207.17 L237.50,207.20 L238.69,207.37 L240.08,207.56 L241.47,207.75 L242.87,207.94 L244.26,208.13 L245.65,208.32 L247.05,208.51 L248.44,208.69 L249.83,208.88 L250.00,208.90 L251.22,209.06 L252.62,209.24 L254.01,209.42 L255.40,209.61 L256.80,209.78 L258.19,209.96 L259.58,210.14 L260.98,210.31 L262.37,210.48 L262.50,210.50 L263.76,210.65 L265.16,210.82 L266.55,210.98 L267.94,211.13 L269.33,211.28 L270.73,211.43 L272.12,211.58 L273.51,211.72 L274.91,211.86 L276.30,212.00" stroke="#000" stroke-width="2.0" fill="none" stroke-linejoin="round" stroke-linecap="square"/>
<path d="M54.80,248.65 L56.19,248.61 L57.59,248.50 L58.00,248.45 L58.98,248.31 L60.37,248.08 L61.77,247.81 L62.50,247.65 L63.16,247.50 L64.55,247.18 L65.94,246.84 L67.00,246.55 L67.34,246.45 L68.73,246.05 L70.12,245.65 L71.52,245.24 L72.50,244.95 L72.91,244.83 L74.30,244.41 L75.70,243.99 L77.09,243.57 L77.50,243.45 L78.48,243.16 L79.88,242.74 L81.27,242.32 L82.50,241.95 L82.66,241.90 L84.05,241.50 L85.45,241.13 L86.84,240.80 L87.50,240.65 L88.23,240.49 L89.63,240.22 L91.02,239.95 L92.41,239.67 L92.50,239.65 L93.81,239.37 L95.20,239.06 L96.59,238.76 L97.50,238.57 L97.99,238.47 L99.38,238.20 L100.77,237.96 L102.16,237.74 L102.50,237.69 L103.56,237.52 L104.95,237.32 L106.34,237.14 L107.74,236.97 L109.13,236.82 L110.52,236.69 L111.92,236.59 L112.50,236.55 L113.31,236.51 L114.70,236.43 L116.10,236.37 L117.49,236.31 L118.88,236.27 L120.27,236.24 L121.67,236.21 L123.06,236.20 L124.45,236.20 L125.00,236.20 L125.85,236.20 L127.24,236.21 L128.63,236.23 L130.03,236.24 L131.42,236.25 L132.81,236.27 L134.21,236.28 L135.60,236.30 L136.99,236.31 L138.38,236.33 L139.78,236.35 L141.17,236.36 L142.56,236.37 L143.96,236.39 L145.35,236.40 L146.74,236.41 L148.14,236.42 L149.53,236.42 L150.00,236.43 L150.92,236.43 L152.32,236.43 L153.71,236.44 L155.10,236.45 L156.49,236.45 L157.89,236.46 L159.28,236.47 L160.67,236.47 L162.07,236.48 L163.46,236.48 L164.85,236.49 L166.25,236.49 L167.64,236.49 L169.03,236.49 L170.43,236.49 L171.82,236.49 L173.21,236.48 L174.61,236.48 L176.00,236.47 L177.39,236.46 L178.78,236.44 L180.00,236.43 L180.18,236.42 L181.57,236.40 L182.96,236.38 L184.36,236.35 L185.75,236.32 L187.14,236.29 L188.54,236.26 L189.93,236.22 L191.32,236.19 L192.72,236.16 L194.11,236.12 L195.50,236.09 L196.89,236.06 L198.29,236.03 L199.68,236.01 L200.00,236.00 L201.07,235.98 L202.47,235.96 L203.86,235.93 L205.25,235.90 L206.65,235.88 L208.04,235.85 L209.43,235.83 L210.83,235.80 L212.22,235.78 L213.61,235.75 L215.00,235.73 L216.40,235.71 L217.79,235.69 L219.18,235.67 L220.58,235.65 L221.97,235.63 L223.36,235.62 L224.76,235.60 L225.00,235.60 L226.15,235.59 L227.54,235.58 L228.94,235.57 L230.33,235.56 L231.72,235.54 L233.11,235.53 L234.51,235.52 L235.90,235.51 L237.29,235.50 L238.69,235.49 L240.08,235.48 L241.47,235.47 L242.87,235.45 L244.26,235.44 L245.65,235.43 L247.05,235.42 L248.44,235.41 L249.83,235.40 L250.00,235.40 L251.22,235.39 L252.62,235.38 L254.01,235.37 L255.40,235.36 L256.80,235.35 L258.19,235.34 L259.58,235.33 L260.98,235.32 L262.37,235.31 L263.76,235.29 L265.16,235.28 L266.55,235.27 L267.94,235.26 L269.33,235.25 L270.73,235.24 L272.12,235.23 L273.51,235.22 L274.91,235.21 L276.30,235.20" stroke="#000" stroke-width="2.0" fill="none" stroke-linejoin="round" stroke-linecap="square"/>
<path d="M54.80,236.00 L56.19,226.52 L56.30,226.00 L57.59,219.97 L58.98,213.44 L59.50,211.00 L60.37,206.91 L61.77,200.38 L62.70,196.00 L63.16,193.94 L64.55,188.51 L65.94,183.67 L66.70,181.00 L67.34,178.65 L68.73,173.53 L70.12,168.71 L71.00,166.00 L71.52,164.60 L72.91,161.66 L74.30,159.34 L74.70,158.70 L75.70,157.08 L77.09,154.87 L78.48,152.75 L79.00,152.00 L79.88,150.75 L81.27,148.90 L82.66,147.40 L83.30,146.90 L84.05,146.44 L85.45,145.83 L86.84,145.43 L88.00,145.20 L88.23,145.16 L89.63,144.90 L91.02,144.70 L92.41,144.60 L92.70,144.60 L93.81,144.66 L95.20,144.85 L96.50,145.10 L96.59,145.12 L97.99,145.41 L99.38,145.92 L100.00,146.30 L100.77,146.85 L102.16,147.89 L103.56,148.94 L104.95,149.96 L105.00,150.00 L106.34,150.96 L107.74,151.94 L109.13,152.95 L110.00,153.60 L110.52,154.00 L111.92,155.06 L113.31,156.12 L114.70,157.17 L115.00,157.40 L116.10,158.23 L117.49,159.29 L118.88,160.35 L120.00,161.20 L120.27,161.41 L121.67,162.45 L123.06,163.49 L124.45,164.50 L125.00,164.90 L125.85,165.51 L127.24,166.47 L128.63,167.40 L130.00,168.30 L130.03,168.32 L131.42,169.22 L132.81,170.09 L134.21,170.93 L135.00,171.40 L135.60,171.74 L136.99,172.53 L138.38,173.30 L139.78,174.04 L141.17,174.77 L142.00,175.20 L142.56,175.49 L143.96,176.19 L145.35,176.89 L146.74,177.57 L148.14,178.24 L149.53,178.88 L150.00,179.10 L150.92,179.52 L152.32,180.14 L153.71,180.75 L155.10,181.35 L156.49,181.93 L157.89,182.49 L159.28,183.03 L160.00,183.30 L160.67,183.55 L162.07,184.06 L163.46,184.56 L164.85,185.06 L166.25,185.56 L167.64,186.06 L169.03,186.56 L170.00,186.90 L170.43,187.05 L171.82,187.54 L173.21,188.04 L174.61,188.53 L176.00,189.02 L177.39,189.50 L178.78,189.98 L180.00,190.40 L180.18,190.46 L181.57,190.92 L182.96,191.37 L184.36,191.81 L185.75,192.23 L187.14,192.65 L188.54,193.07 L189.93,193.48 L190.00,193.50 L191.32,193.89 L192.72,194.29 L194.11,194.69 L195.50,195.09 L196.89,195.47 L198.29,195.85 L199.68,196.22 L200.00,196.30 L201.07,196.58 L202.47,196.93 L203.86,197.27 L205.25,197.60 L206.65,197.93 L208.04,198.24 L209.43,198.55 L210.83,198.85 L212.22,199.14 L212.50,199.20 L213.61,199.43 L215.00,199.71 L216.40,199.99 L217.79,200.26 L219.18,200.53 L220.58,200.79 L221.97,201.05 L223.36,201.31 L224.76,201.56 L225.00,201.60 L226.15,201.80 L227.54,202.05 L228.94,202.29 L230.33,202.53 L231.72,202.76 L233.11,202.99 L234.51,203.22 L235.90,203.45 L237.29,203.67 L237.50,203.70 L238.69,203.88 L240.08,204.10 L241.47,204.30 L242.87,204.51 L244.26,204.71 L245.65,204.91 L247.05,205.10 L248.44,205.29 L249.83,205.48 L250.00,205.50 L251.22,205.66 L252.62,205.84 L254.01,206.02 L255.40,206.19 L256.80,206.35 L258.19,206.52 L259.58,206.68 L260.98,206.83 L262.37,206.99 L262.50,207.00 L263.76,207.13 L265.16,207.28 L266.55,207.42 L267.94,207.56 L269.33,207.69 L270.73,207.82 L272.12,207.94 L273.51,208.07 L274.91,208.18 L276.30,208.30" stroke="#000" stroke-width="2.0" fill="none" stroke-linejoin="round" stroke-dasharray="7.2 3.1"/>
<path d="M54.80,248.65 L56.19,248.61 L57.59,248.50 L58.00,248.45 L58.98,248.31 L60.37,248.08 L61.77,247.81 L62.50,247.65 L63.16,247.50 L64.55,247.18 L65.94,246.84 L67.00,246.55 L67.34,246.45 L68.73,246.05 L70.12,245.65 L71.52,245.24 L72.50,244.95 L72.91,244.83 L74.30,244.41 L75.70,243.99 L77.09,243.57 L77.50,243.45 L78.48,243.16 L79.88,242.74 L81.27,242.32 L82.50,241.95 L82.66,241.90 L84.05,241.50 L85.45,241.13 L86.84,240.80 L87.50,240.65 L88.23,240.49 L89.63,240.22 L91.02,239.95 L92.41,239.67 L92.50,239.65 L93.81,239.37 L95.20,239.06 L96.59,238.76 L97.50,238.57 L97.99,238.47 L99.38,238.20 L100.77,237.96 L102.16,237.74 L102.50,237.69 L103.56,237.53 L104.95,237.35 L106.34,237.18 L107.74,237.03 L109.13,236.90 L110.52,236.80 L111.92,236.71 L112.50,236.68 L113.31,236.64 L114.70,236.58 L116.10,236.52 L117.49,236.48 L118.88,236.44 L120.27,236.42 L121.67,236.41 L123.06,236.41 L124.45,236.42 L125.00,236.43 L125.85,236.44 L127.24,236.47 L128.63,236.50 L130.03,236.54 L131.42,236.57 L132.81,236.61 L134.21,236.65 L135.60,236.69 L136.99,236.73 L138.38,236.77 L139.78,236.81 L141.17,236.85 L142.56,236.89 L143.96,236.93 L145.35,236.96 L146.74,236.99 L148.14,237.02 L149.53,237.05 L150.00,237.06 L150.92,237.07 L152.32,237.09 L153.71,237.11 L155.10,237.14 L156.49,237.15 L157.89,237.17 L159.28,237.18 L160.67,237.19 L162.07,237.19 L163.46,237.19 L164.85,237.18 L165.00,237.18 L166.25,237.17 L167.64,237.15 L169.03,237.12 L170.43,237.09 L171.82,237.06 L173.21,237.02 L174.61,236.98 L176.00,236.94 L177.39,236.90 L178.78,236.85 L180.00,236.80 L180.18,236.80 L181.57,236.75 L182.96,236.69 L184.36,236.63 L185.75,236.58 L187.14,236.52 L188.54,236.46 L189.93,236.40 L191.32,236.34 L192.72,236.28 L194.11,236.22 L195.50,236.17 L196.89,236.11 L198.29,236.06 L199.68,236.01 L200.00,236.00 L201.07,235.96 L202.47,235.92 L203.86,235.87 L205.25,235.83 L206.65,235.78 L208.04,235.74 L209.43,235.70 L210.83,235.65 L212.22,235.61 L213.61,235.57 L215.00,235.54 L216.40,235.50 L217.79,235.46 L219.18,235.43 L220.58,235.39 L221.97,235.36 L223.36,235.33 L224.76,235.30 L225.00,235.30 L226.15,235.28 L227.54,235.25 L228.94,235.23 L230.33,235.20 L231.72,235.18 L233.11,235.15 L234.51,235.13 L235.90,235.11 L237.29,235.08 L238.69,235.06 L240.08,235.04 L241.47,235.02 L242.87,235.00 L244.26,234.98 L245.65,234.96 L247.05,234.94 L248.44,234.92 L249.83,234.90 L250.00,234.90 L251.22,234.88 L252.62,234.87 L254.01,234.85 L255.40,234.83 L256.80,234.81 L258.19,234.80 L259.58,234.78 L260.98,234.76 L262.37,234.75 L263.76,234.73 L265.16,234.72 L266.55,234.70 L267.94,234.68 L269.33,234.67 L270.73,234.65 L272.12,234.64 L273.51,234.63 L274.91,234.61 L276.30,234.60" stroke="#000" stroke-width="2.0" fill="none" stroke-linejoin="round" stroke-dasharray="7.2 3.1"/>
</g>
<path d="M50.00,236.00 L54.8,236.00" stroke="#000" stroke-width="2.3"/>
<path d="M50.00,191.35 L54.8,191.35" stroke="#000" stroke-width="2.3"/>
<path d="M50.00,146.70 L54.8,146.70" stroke="#000" stroke-width="2.3"/>
<path d="M54.80,258.5 L54.80,262.80" stroke="#000" stroke-width="2.2"/>
<path d="M118.07,258.5 L118.07,262.80" stroke="#000" stroke-width="2.2"/>
<path d="M181.34,258.5 L181.34,262.80" stroke="#000" stroke-width="2.2"/>
<path d="M244.61,258.5 L244.61,262.80" stroke="#000" stroke-width="2.2"/>
<rect x="54.8" y="135.8" width="221.30" height="122.70" fill="none" stroke="#000" stroke-width="2.5"/>
<g clip-path="url(#cpd)">
<path d="M298.4,236.0 L519.6,236.0" stroke="#000" stroke-width="0.8" fill="none"/>
<path d="M298.60,236.00 L299.99,228.70 L300.60,226.00 L301.38,222.86 L302.77,217.45 L304.16,212.24 L304.50,211.00 L305.55,207.17 L306.94,202.14 L308.33,197.26 L308.70,196.00 L309.72,192.62 L311.11,188.16 L312.50,183.80 L313.40,181.00 L313.89,179.48 L315.28,175.17 L316.67,171.01 L318.06,167.14 L318.50,166.00 L319.45,163.76 L320.84,160.91 L321.30,160.00 L322.23,158.19 L323.62,155.54 L325.00,153.00 L325.01,152.98 L326.40,150.53 L327.79,148.39 L328.70,147.30 L329.18,146.83 L330.57,145.71 L331.96,144.82 L333.00,144.20 L333.35,143.99 L334.74,143.09 L336.13,142.34 L337.30,142.00 L337.52,141.98 L338.91,142.00 L340.30,142.19 L341.00,142.30 L341.69,142.38 L343.08,142.53 L344.47,142.90 L344.70,143.00 L345.86,143.62 L347.25,144.47 L348.40,145.20 L348.64,145.35 L350.03,146.20 L351.42,147.09 L352.00,147.50 L352.81,148.10 L354.20,149.17 L355.59,150.27 L356.98,151.38 L357.00,151.40 L358.37,152.49 L359.76,153.61 L361.00,154.60 L361.15,154.72 L362.54,155.83 L363.93,156.94 L364.00,157.00 L365.32,158.06 L366.71,159.20 L368.10,160.34 L369.49,161.48 L370.00,161.90 L370.88,162.61 L372.27,163.73 L373.66,164.83 L374.00,165.10 L375.05,165.91 L376.44,166.96 L377.83,167.98 L379.22,168.99 L380.61,169.97 L382.00,170.95 L382.50,171.30 L383.39,171.91 L384.78,172.86 L386.17,173.79 L387.56,174.71 L387.70,174.80 L388.95,175.61 L390.34,176.50 L391.73,177.36 L393.12,178.20 L394.51,179.02 L395.00,179.30 L395.90,179.80 L397.29,180.52 L398.68,181.19 L400.07,181.81 L401.00,182.20 L401.46,182.38 L402.85,182.92 L404.24,183.44 L405.63,183.96 L407.02,184.50 L407.50,184.70 L408.41,185.07 L409.79,185.65 L411.18,186.22 L412.57,186.79 L413.96,187.37 L415.00,187.80 L415.35,187.95 L416.74,188.53 L418.13,189.11 L419.52,189.70 L420.91,190.28 L422.30,190.87 L423.69,191.45 L425.00,192.00 L425.08,192.04 L426.47,192.61 L427.86,193.17 L429.25,193.72 L430.64,194.26 L432.03,194.79 L433.42,195.31 L434.81,195.82 L436.20,196.31 L437.59,196.79 L438.98,197.26 L440.00,197.60 L440.37,197.72 L441.76,198.16 L443.15,198.58 L444.54,198.98 L445.93,199.36 L447.32,199.73 L448.71,200.09 L450.10,200.43 L451.49,200.76 L452.50,201.00 L452.88,201.09 L454.27,201.41 L455.66,201.73 L457.05,202.05 L458.44,202.36 L459.83,202.66 L461.22,202.95 L462.61,203.24 L464.00,203.51 L465.00,203.70 L465.39,203.77 L466.78,204.03 L468.17,204.28 L469.56,204.53 L470.95,204.78 L472.34,205.02 L473.73,205.26 L475.12,205.50 L476.51,205.74 L477.50,205.90 L477.90,205.97 L479.29,206.20 L480.68,206.43 L482.07,206.65 L483.46,206.88 L484.85,207.10 L486.24,207.32 L487.63,207.54 L489.02,207.75 L490.00,207.90 L490.41,207.96 L491.80,208.16 L493.19,208.36 L494.58,208.56 L495.97,208.75 L497.36,208.94 L498.75,209.12 L500.14,209.30 L501.53,209.48 L502.50,209.60 L502.92,209.65 L504.31,209.83 L505.70,210.00 L507.09,210.17 L508.48,210.33 L509.87,210.50 L511.26,210.66 L512.65,210.82 L514.04,210.98 L515.43,211.14 L516.82,211.30 L518.21,211.45 L519.60,211.60" stroke="#000" stroke-width="2.0" fill="none" stroke-linejoin="round" stroke-linecap="square"/>
<path d="M298.60,253.70 L299.99,253.58 L301.00,253.50 L301.38,253.47 L302.77,253.44 L304.16,253.37 L305.00,253.25 L305.55,253.13 L306.94,252.73 L308.33,252.25 L309.72,251.75 L310.00,251.65 L311.11,251.27 L312.50,250.80 L313.89,250.33 L315.00,249.95 L315.28,249.85 L316.67,249.37 L318.06,248.88 L319.45,248.40 L320.84,247.91 L322.23,247.42 L323.62,246.93 L325.00,246.45 L325.01,246.45 L326.40,245.97 L327.79,245.50 L329.18,245.03 L330.57,244.57 L331.96,244.12 L333.35,243.67 L334.74,243.23 L335.00,243.15 L336.13,242.80 L337.52,242.38 L338.91,241.97 L340.30,241.56 L341.69,241.17 L343.08,240.78 L344.47,240.40 L345.00,240.25 L345.86,240.02 L347.25,239.65 L348.64,239.29 L350.00,238.95 L350.03,238.94 L351.42,238.60 L352.81,238.28 L354.20,237.98 L355.00,237.81 L355.59,237.69 L356.98,237.42 L358.37,237.16 L359.76,236.93 L361.15,236.72 L362.54,236.54 L363.93,236.39 L365.00,236.30 L365.32,236.28 L366.71,236.18 L368.10,236.09 L369.49,236.01 L370.88,235.95 L372.27,235.90 L373.66,235.85 L375.05,235.83 L376.44,235.81 L377.50,235.80 L377.83,235.80 L379.22,235.79 L380.61,235.79 L382.00,235.78 L383.39,235.78 L384.78,235.78 L386.17,235.77 L387.56,235.77 L388.95,235.77 L390.34,235.78 L391.73,235.78 L393.12,235.79 L394.51,235.80 L395.00,235.80 L395.90,235.81 L397.29,235.82 L398.68,235.83 L400.07,235.85 L401.46,235.86 L402.85,235.88 L404.24,235.90 L405.63,235.91 L407.02,235.93 L408.41,235.95 L409.79,235.96 L411.18,235.98 L412.57,235.99 L413.96,236.01 L415.35,236.02 L416.74,236.04 L418.13,236.05 L419.52,236.06 L420.91,236.08 L422.30,236.08 L423.69,236.09 L425.00,236.10 L425.08,236.10 L426.47,236.11 L427.86,236.11 L429.25,236.12 L430.64,236.12 L432.03,236.13 L433.42,236.14 L434.81,236.14 L436.20,236.15 L437.59,236.15 L438.98,236.15 L440.37,236.16 L441.76,236.16 L443.15,236.17 L444.54,236.17 L445.93,236.17 L447.32,236.18 L448.71,236.18 L450.10,236.18 L451.49,236.19 L452.88,236.19 L454.27,236.19 L455.66,236.19 L457.05,236.20 L458.44,236.20 L459.83,236.20 L461.22,236.20 L462.61,236.20 L464.00,236.20 L465.39,236.20 L466.78,236.20 L468.17,236.20 L469.56,236.20 L470.00,236.20 L470.95,236.20 L472.34,236.20 L473.73,236.20 L475.12,236.20 L476.51,236.20 L477.90,236.19 L479.29,236.19 L480.68,236.19 L482.07,236.19 L483.46,236.19 L484.85,236.19 L486.24,236.19 L487.63,236.18 L489.02,236.18 L490.41,236.18 L491.80,236.18 L493.19,236.18 L494.58,236.17 L495.97,236.17 L497.36,236.17 L498.75,236.16 L500.14,236.16 L501.53,236.16 L502.92,236.15 L504.31,236.15 L505.70,236.15 L507.09,236.14 L508.48,236.14 L509.87,236.14 L511.26,236.13 L512.65,236.13 L514.04,236.12 L515.43,236.12 L516.82,236.11 L518.21,236.11 L519.60,236.10" stroke="#000" stroke-width="2.0" fill="none" stroke-linejoin="round" stroke-linecap="square"/>
<path d="M298.60,236.00 L299.90,226.00 L299.99,225.33 L301.38,215.29 L302.00,211.00 L302.77,205.94 L304.16,197.81 L304.50,196.00 L305.55,190.74 L306.94,184.59 L308.20,180.00 L308.33,179.59 L309.72,175.30 L311.11,171.26 L311.20,171.00 L312.50,167.34 L313.89,163.76 L314.00,163.50 L315.28,161.05 L316.67,159.31 L317.00,159.00 L318.06,158.09 L319.45,156.95 L320.70,156.00 L320.84,155.90 L322.23,154.90 L323.62,153.95 L324.00,153.70 L325.01,153.10 L326.40,152.39 L327.30,152.00 L327.79,151.81 L329.18,151.36 L330.57,151.00 L331.00,150.90 L331.96,150.70 L333.35,150.48 L334.70,150.40 L334.74,150.40 L336.13,150.47 L337.52,150.66 L338.70,150.90 L338.91,150.95 L340.30,151.29 L341.69,151.68 L342.70,152.00 L343.08,152.13 L344.47,152.61 L345.86,153.19 L346.70,153.60 L347.25,153.89 L348.64,154.67 L350.03,155.49 L350.70,155.90 L351.42,156.34 L352.81,157.22 L354.20,158.10 L355.59,158.95 L356.00,159.20 L356.98,159.77 L358.37,160.58 L359.76,161.39 L361.00,162.10 L361.15,162.18 L362.54,162.97 L363.93,163.76 L364.00,163.80 L365.32,164.59 L366.71,165.45 L368.10,166.32 L369.49,167.19 L370.00,167.50 L370.88,168.03 L372.27,168.86 L373.66,169.65 L374.30,170.00 L375.05,170.39 L376.44,171.08 L377.83,171.73 L379.22,172.36 L380.61,172.98 L382.00,173.58 L382.50,173.80 L383.39,174.18 L384.78,174.78 L386.17,175.38 L387.56,175.97 L388.95,176.55 L390.34,177.13 L391.00,177.40 L391.73,177.69 L393.12,178.26 L394.51,178.82 L395.90,179.37 L397.29,179.91 L398.68,180.44 L400.07,180.96 L401.00,181.30 L401.46,181.46 L402.85,181.96 L404.24,182.45 L405.63,182.94 L407.02,183.43 L407.50,183.60 L408.41,183.92 L409.79,184.43 L411.18,184.93 L412.57,185.43 L413.96,185.93 L415.00,186.30 L415.35,186.42 L416.74,186.90 L418.13,187.36 L419.52,187.82 L420.91,188.27 L422.30,188.72 L423.69,189.17 L425.00,189.60 L425.08,189.63 L426.47,190.10 L427.86,190.58 L429.25,191.06 L430.64,191.55 L432.03,192.05 L433.42,192.54 L434.81,193.03 L436.20,193.52 L437.59,194.00 L438.98,194.46 L440.00,194.80 L440.37,194.92 L441.76,195.35 L443.15,195.74 L444.54,196.11 L445.93,196.45 L447.32,196.77 L448.71,197.07 L450.10,197.35 L451.49,197.61 L452.50,197.80 L452.88,197.87 L454.27,198.12 L455.66,198.37 L457.05,198.61 L458.44,198.85 L459.83,199.08 L461.22,199.31 L462.61,199.53 L464.00,199.75 L465.00,199.90 L465.39,199.96 L466.78,200.17 L468.17,200.37 L469.56,200.58 L470.95,200.79 L472.34,200.99 L473.73,201.19 L475.12,201.38 L476.51,201.57 L477.50,201.70 L477.90,201.75 L479.29,201.93 L480.68,202.11 L482.07,202.29 L483.46,202.46 L484.85,202.64 L486.24,202.82 L487.63,203.00 L489.02,203.17 L490.00,203.30 L490.41,203.35 L491.80,203.53 L493.19,203.71 L494.58,203.89 L495.97,204.06 L497.36,204.24 L498.75,204.42 L500.14,204.60 L501.53,204.78 L502.50,204.90 L502.92,204.95 L504.31,205.12 L505.70,205.29 L507.09,205.44 L508.48,205.59 L509.87,205.73 L511.26,205.86 L512.65,205.99 L514.04,206.12 L515.43,206.24 L516.82,206.36 L518.21,206.48 L519.60,206.60" stroke="#000" stroke-width="2.0" fill="none" stroke-linejoin="round" stroke-dasharray="7.2 3.1"/>
<path d="M298.60,253.50 L299.99,253.38 L301.00,253.30 L301.38,253.27 L302.77,253.23 L304.16,253.16 L305.00,253.05 L305.55,252.94 L306.94,252.56 L308.33,252.11 L309.72,251.64 L310.00,251.55 L311.11,251.20 L312.50,250.75 L313.89,250.31 L315.00,249.95 L315.28,249.86 L316.67,249.40 L318.06,248.94 L319.45,248.48 L320.84,248.02 L322.23,247.56 L323.62,247.10 L325.00,246.65 L325.01,246.65 L326.40,246.19 L327.79,245.74 L329.18,245.30 L330.57,244.85 L331.96,244.41 L333.35,243.97 L334.74,243.53 L335.00,243.45 L336.13,243.10 L337.52,242.67 L338.91,242.26 L340.30,241.85 L341.69,241.45 L343.08,241.07 L344.47,240.69 L345.00,240.55 L345.86,240.33 L347.25,239.98 L348.64,239.65 L350.00,239.32 L350.03,239.32 L351.42,238.99 L352.81,238.68 L354.20,238.37 L355.00,238.19 L355.59,238.06 L356.98,237.78 L358.37,237.51 L359.76,237.26 L361.15,237.04 L362.54,236.84 L363.93,236.67 L365.00,236.55 L365.32,236.52 L366.71,236.39 L368.10,236.28 L369.49,236.19 L370.88,236.11 L372.27,236.04 L373.66,235.98 L375.05,235.94 L376.44,235.91 L377.50,235.90 L377.83,235.90 L379.22,235.88 L380.61,235.87 L382.00,235.85 L383.39,235.84 L384.78,235.83 L386.17,235.82 L387.56,235.81 L388.95,235.80 L390.34,235.79 L391.73,235.79 L393.12,235.79 L394.51,235.80 L395.00,235.80 L395.90,235.81 L397.29,235.81 L398.68,235.82 L400.07,235.83 L401.46,235.84 L402.85,235.85 L404.24,235.86 L405.63,235.87 L407.02,235.88 L408.41,235.90 L409.79,235.91 L411.18,235.92 L412.57,235.93 L413.96,235.94 L415.35,235.95 L416.74,235.96 L418.13,235.97 L419.52,235.97 L420.91,235.98 L422.30,235.99 L423.69,236.00 L425.00,236.00 L425.08,236.00 L426.47,236.00 L427.86,236.01 L429.25,236.01 L430.64,236.02 L432.03,236.02 L433.42,236.03 L434.81,236.03 L436.20,236.04 L437.59,236.04 L438.98,236.05 L440.37,236.05 L441.76,236.05 L443.15,236.06 L444.54,236.06 L445.93,236.06 L447.32,236.07 L448.71,236.07 L450.10,236.07 L451.49,236.08 L452.88,236.08 L454.27,236.08 L455.66,236.09 L457.05,236.09 L458.44,236.09 L459.83,236.09 L461.22,236.09 L462.61,236.10 L464.00,236.10 L465.39,236.10 L466.78,236.10 L468.17,236.10 L469.56,236.10 L470.00,236.10 L470.95,236.10 L472.34,236.10 L473.73,236.10 L475.12,236.10 L476.51,236.10 L477.90,236.10 L479.29,236.10 L480.68,236.10 L482.07,236.09 L483.46,236.09 L484.85,236.09 L486.24,236.09 L487.63,236.09 L489.02,236.09 L490.41,236.08 L491.80,236.08 L493.19,236.08 L494.58,236.08 L495.97,236.07 L497.36,236.07 L498.75,236.07 L500.14,236.06 L501.53,236.06 L502.92,236.06 L504.31,236.05 L505.70,236.05 L507.09,236.04 L508.48,236.04 L509.87,236.04 L511.26,236.03 L512.65,236.03 L514.04,236.02 L515.43,236.02 L516.82,236.01 L518.21,236.01 L519.60,236.00" stroke="#000" stroke-width="2.0" fill="none" stroke-linejoin="round" stroke-dasharray="7.2 3.1"/>
</g>
<path d="M298.40,258.5 L298.40,262.80" stroke="#000" stroke-width="2.2"/>
<path d="M361.67,258.5 L361.67,262.80" stroke="#000" stroke-width="2.2"/>
<path d="M424.94,258.5 L424.94,262.80" stroke="#000" stroke-width="2.2"/>
<path d="M488.21,258.5 L488.21,262.80" stroke="#000" stroke-width="2.2"/>
<rect x="298.4" y="135.8" width="221.20" height="122.70" fill="none" stroke="#000" stroke-width="2.5"/>
<text transform="translate(45.70 106.35) scale(1.07 1)" font-size="14.30" text-anchor="end">0.0</text>
<text transform="translate(45.70 61.70) scale(1.07 1)" font-size="14.30" text-anchor="end">0.2</text>
<text transform="translate(45.70 17.05) scale(1.07 1)" font-size="14.30" text-anchor="end">0.4</text>
<text transform="translate(45.70 241.85) scale(1.07 1)" font-size="14.30" text-anchor="end">0.0</text>
<text transform="translate(45.70 197.20) scale(1.07 1)" font-size="14.30" text-anchor="end">0.2</text>
<text transform="translate(45.70 152.55) scale(1.07 1)" font-size="14.30" text-anchor="end">0.4</text>
<text transform="translate(54.80 279.10) scale(1.07 1)" font-size="14.30" text-anchor="middle">0.0</text>
<text transform="translate(118.07 279.10) scale(1.07 1)" font-size="14.30" text-anchor="middle">0.1</text>
<text transform="translate(181.34 279.10) scale(1.07 1)" font-size="14.30" text-anchor="middle">0.2</text>
<text transform="translate(244.61 279.10) scale(1.07 1)" font-size="14.30" text-anchor="middle">0.3</text>
<text transform="translate(165.05 297.70) scale(1.07 1)" font-size="14.30" text-anchor="middle" font-style="italic">r/c</text>
<text transform="translate(298.40 279.10) scale(1.07 1)" font-size="14.30" text-anchor="middle">0.0</text>
<text transform="translate(361.67 279.10) scale(1.07 1)" font-size="14.30" text-anchor="middle">0.1</text>
<text transform="translate(424.94 279.10) scale(1.07 1)" font-size="14.30" text-anchor="middle">0.2</text>
<text transform="translate(488.21 279.10) scale(1.07 1)" font-size="14.30" text-anchor="middle">0.3</text>
<text transform="translate(408.60 297.70) scale(1.07 1)" font-size="14.30" text-anchor="middle" font-style="italic">r/c</text>
<path d="M176.3,11.65 L193.60000000000002,11.65" stroke="#000" stroke-width="2.0" stroke-linecap="square"/>
<path d="M176.3,24.15 L193.60000000000002,24.15" stroke="#000" stroke-width="2.0" stroke-dasharray="7.2 3.1"/>
<text transform="translate(201.20 14.55) scale(1.048 1)" font-size="8.40">z/c=1</text>
<text transform="translate(201.20 26.90) scale(1.048 1)" font-size="8.40">Moore-Saffman</text>
<path d="M420.2,11.65 L437.5,11.65" stroke="#000" stroke-width="2.0" stroke-linecap="square"/>
<path d="M420.2,24.15 L437.5,24.15" stroke="#000" stroke-width="2.0" stroke-dasharray="7.2 3.1"/>
<text transform="translate(445.10 14.55) scale(1.048 1)" font-size="8.40">z/c=5</text>
<text transform="translate(445.10 26.90) scale(1.048 1)" font-size="8.40">Moore-Saffman</text>
<path d="M201.3,147.0 L218.60000000000002,147.0" stroke="#000" stroke-width="2.0" stroke-linecap="square"/>
<path d="M201.3,159.8 L218.60000000000002,159.8" stroke="#000" stroke-width="2.0" stroke-dasharray="7.2 3.1"/>
<text transform="translate(226.20 149.90) scale(1.048 1)" font-size="8.40">z/c=1</text>
<text transform="translate(226.20 162.90) scale(1.048 1)" font-size="8.40">Batchelor</text>
<path d="M445.2,147.0 L462.5,147.0" stroke="#000" stroke-width="2.0" stroke-linecap="square"/>
<path d="M445.2,159.8 L462.5,159.8" stroke="#000" stroke-width="2.0" stroke-dasharray="7.2 3.1"/>
<text transform="translate(470.10 149.90) scale(1.048 1)" font-size="8.40">z/c=5</text>
<text transform="translate(470.10 162.90) scale(1.048 1)" font-size="8.40">Batchelor</text>
<text transform="translate(274.60 15.30) scale(1.03 1)" font-size="12.00" text-anchor="end">(a)</text>
<text transform="translate(517.40 15.30) scale(1.03 1)" font-size="12.00" text-anchor="end">(b)</text>
<text transform="translate(274.60 151.00) scale(1.03 1)" font-size="12.00" text-anchor="end">(c)</text>
<text transform="translate(518.40 151.00) scale(1.03 1)" font-size="12.00" text-anchor="end">(d)</text>
<g transform="translate(11.5 208.7) rotate(-90) scale(1.0313 1)">
<text font-size="14.7">
<tspan x="0.00" y="0.00" font-size="14.70" font-style="italic">u</tspan>
<tspan x="9.46" y="2.41" font-size="10.29" font-style="italic">θ</tspan>
<tspan x="16.16" y="0.00" font-size="14.70">/</tspan>
<tspan x="21.11" y="0.00" font-size="14.70" font-style="italic">U</tspan>
<tspan x="31.87" y="2.41" font-size="10.29">∞</tspan>
<tspan x="40.84" y="0.00" font-size="14.70">,</tspan>
<tspan x="48.38" y="0.00" font-size="14.70">(</tspan>
<tspan x="54.11" y="0.00" font-size="14.70" font-style="italic">u</tspan>
<tspan x="63.57" y="2.41" font-size="10.29" font-style="italic">z</tspan>
<tspan x="72.24" y="0.00" font-size="14.70">−</tspan>
<tspan x="87.42" y="0.00" font-size="14.70" font-style="italic">U</tspan>
<tspan x="98.18" y="2.41" font-size="10.29">∞</tspan>
<tspan x="107.15" y="0.00" font-size="14.70">)</tspan>
<tspan x="112.89" y="0.00" font-size="14.70">/</tspan>
<tspan x="117.84" y="0.00" font-size="14.70" font-style="italic">U</tspan>
<tspan x="128.60" y="2.41" font-size="10.29">∞</tspan>
</text>
<text x="2.28" y="0" font-size="14.7">¯</text>
<text x="56.39" y="0" font-size="14.7">¯</text>
</g>
</svg>
</body></html>
